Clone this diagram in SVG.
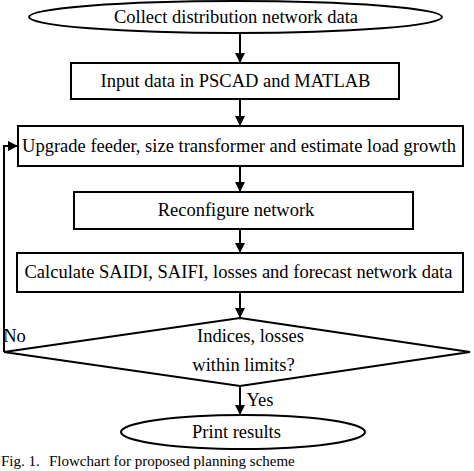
<svg xmlns="http://www.w3.org/2000/svg" width="474" height="471" viewBox="0 0 474 471">
<style>
.s{fill:#fff;stroke:#000;stroke-width:2}
.t{font-family:"Liberation Serif","Times New Roman",serif;font-size:18.5px;fill:#000;text-anchor:middle}
.c{font-family:"Liberation Serif","Times New Roman",serif;font-size:15px;fill:#000}
.l{fill:none;stroke:#000;stroke-width:2}
</style>
<defs>
<marker id="a" viewBox="0 0 10 10" refX="10" refY="5" markerWidth="5" markerHeight="5" orient="auto" markerUnits="strokeWidth">
<path d="M0,0 L10,5 L0,10 z" fill="#000"/>
</marker>
</defs>
<rect width="474" height="471" fill="#fff"/>
<g id="connectors">
<line class="l" x1="240" y1="33" x2="240" y2="63" marker-end="url(#a)"/>
<line class="l" x1="240" y1="99" x2="240" y2="126" marker-end="url(#a)"/>
<line class="l" x1="240" y1="166" x2="240" y2="192" marker-end="url(#a)"/>
<line class="l" x1="240" y1="229" x2="240" y2="253" marker-end="url(#a)"/>
<line class="l" x1="240" y1="292" x2="240" y2="318" marker-end="url(#a)"/>
<line class="l" x1="240" y1="386" x2="240" y2="415" marker-end="url(#a)"/>
<polyline class="l" points="4,352 4,146 18,146" marker-end="url(#a)"/>
</g>
<g id="start">
<ellipse class="s" cx="235.5" cy="17" rx="206.5" ry="16"/>
<text class="t" x="236" y="23">Collect distribution network data</text>
</g>
<g id="input">
<rect class="s" x="71" y="63" width="328" height="36"/>
<text class="t" x="235.5" y="87">Input data in PSCAD and MATLAB</text>
</g>
<g id="upgrade">
<rect class="s" x="18" y="126" width="445" height="40"/>
<text class="t" x="239" y="152">Upgrade feeder, size transformer and estimate load growth</text>
</g>
<g id="reconfigure">
<rect class="s" x="74" y="192" width="339" height="37"/>
<text class="t" x="236" y="216">Reconfigure network</text>
</g>
<g id="calculate">
<rect class="s" x="17" y="253" width="446" height="39"/>
<text class="t" x="238.5" y="278">Calculate SAIDI, SAIFI, losses and forecast network data</text>
</g>
<g id="decision">
<polygon class="s" points="240,318 470,352 240,386 4,352"/>
<text class="t" x="250.5" y="342">Indices, losses</text>
<text class="t" x="243.5" y="371">within limits?</text>
</g>
<g id="end">
<ellipse class="s" cx="243" cy="432" rx="122" ry="17"/>
<text class="t" x="236.5" y="438">Print results</text>
</g>
<text class="t" x="14.5" y="342">No</text>
<text class="t" x="260" y="406">Yes</text>
<text class="c" y="466"><tspan x="1">Fig. 1.</tspan><tspan x="49">Flowchart for proposed planning scheme</tspan></text>
</svg>
